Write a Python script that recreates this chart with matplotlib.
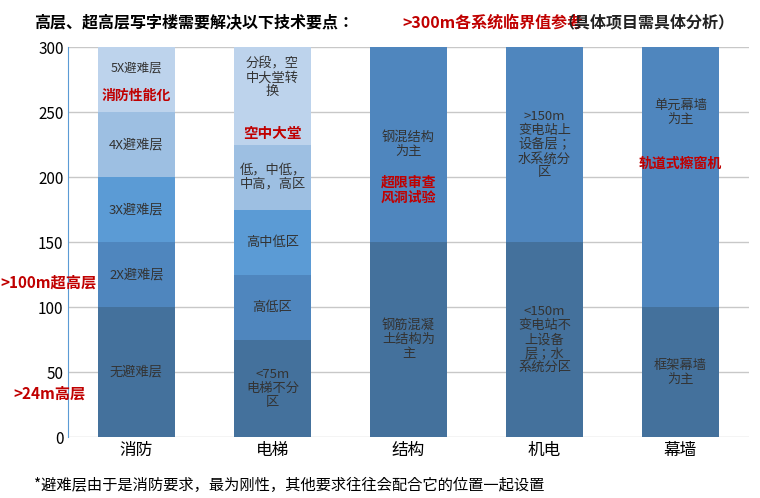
import matplotlib
matplotlib.use("Agg")
import matplotlib.pyplot as plt
from matplotlib import font_manager

names = {f.name for f in font_manager.fontManager.ttflist}
cjk = [n for n in ["Noto Sans CJK SC", "Noto Sans CJK JP", "Noto Sans CJK TC", "Noto Sans CJK KR"] if n in names]
plt.rcParams["font.family"] = "sans-serif"
plt.rcParams["font.sans-serif"] = cjk + ["DejaVu Sans"]

categories = ["消防", "电梯", "结构", "机电", "幕墙"]
seg_fire = [(0, 100, "无避难层", ""), (100, 150, "2X避难层", ""), (150, 200, "3X避难层", ""),
            (200, 250, "4X避难层", ""), (250, 300, "5X避难层", "消防性能化")]
seg_elev = [(0, 75, "<75m\n电梯不分\n区", ""), (75, 125, "高低区", ""), (125, 175, "高中低区", ""),
            (175, 225, "低，中低，\n中高，高区", ""), (225, 300, "分段，空\n中大堂转\n换", "空中大堂")]
seg_struct = [(0, 150, "钢筋混凝\n土结构为\n主", ""), (150, 300, "钢混结构\n为主", "超限审查\n风洞试验")]
seg_mep = [(0, 150, "<150m\n变电站不\n上设备\n层；水\n系统分区", ""), (150, 300, ">150m\n变电站上\n设备层；\n水系统分\n区", "")]
seg_wall = [(0, 100, "框架幕墙\n为主", ""), (100, 300, "单元幕墙\n为主", "轨道式擦窗机")]
segments = [seg_fire, seg_elev, seg_struct, seg_mep, seg_wall]

shades = ["#44719c", "#4f86be", "#5b9bd5", "#9dbfe2", "#bdd3ec"]
two = ["#44719c", "#4f86be"]

fig = plt.figure(figsize=(7.6, 4.98), dpi=100)
ax = fig.add_axes([0.09, 0.122, 0.895, 0.783])
ax.set_xlim(-0.5, 4.5)
ax.set_ylim(0, 300)
ax.set_yticks(range(0, 301, 50))
ax.yaxis.grid(True, color="#c8c8c8", lw=1)
ax.set_axisbelow(True)
for s in ["top", "right", "bottom"]:
    ax.spines[s].set_visible(False)
ax.spines["left"].set_color("#5b9bd5")
ax.tick_params(length=0, labelsize=11)
ax.set_xticks(range(5))
ax.set_xticklabels(categories, fontsize=12)

for i, segs in enumerate(segments):
    cols = shades if len(segs) == 5 else two
    for j, (b, t, lab, red) in enumerate(segs):
        ax.bar(i, t - b, bottom=b, width=0.57, color=cols[j], zorder=2)
        mid = (b + t) / 2
        if red and i == 0:
            ax.text(i, mid + 9, lab, ha="center", va="center", fontsize=9, color="#333333")
            ax.text(i, mid - 12, red, ha="center", va="center", fontsize=10, color="#c00000", weight="bold")
        elif red and i == 1:
            ax.text(i, mid + 14, lab, ha="center", va="center", fontsize=9.5, color="#333333", linespacing=1.1)
            ax.text(i, 234, red, ha="center", va="center", fontsize=10.5, color="#c00000", weight="bold")
        elif red and i == 2:
            ax.text(i, 225, lab, ha="center", va="center", fontsize=9.5, color="#333333", linespacing=1.1)
            ax.text(i, 190, red, ha="center", va="center", fontsize=10, color="#c00000", weight="bold", linespacing=1.1)
        elif red and i == 4:
            ax.text(i, 250, lab, ha="center", va="center", fontsize=9.5, color="#333333", linespacing=1.1)
            ax.text(i, 210, red, ha="center", va="center", fontsize=10, color="#c00000", weight="bold")
        else:
            ax.text(i, mid, lab, ha="center", va="center", fontsize=9.5, color="#333333", linespacing=1.1)

fig.text(0.045, 0.955, "高层、超高层写字楼需要解决以下技术要点：", fontsize=11.5, weight="bold", va="center")
fig.text(0.53, 0.955, ">300m各系统临界值参考", fontsize=11.5, weight="bold", color="#c00000", va="center")
fig.text(0.735, 0.955, "（具体项目需具体分析）", fontsize=11.5, weight="bold", color="#222222", va="center")
fig.text(0.0, 0.432, ">100m超高层", fontsize=11, weight="bold", color="#c00000", va="center")
fig.text(0.017, 0.21, ">24m高层", fontsize=11, weight="bold", color="#c00000", va="center")
fig.text(0.045, 0.025, "*避难层由于是消防要求，最为刚性，其他要求往往会配合它的位置一起设置", fontsize=11, va="center")

fig.savefig("out.png", dpi=100)
